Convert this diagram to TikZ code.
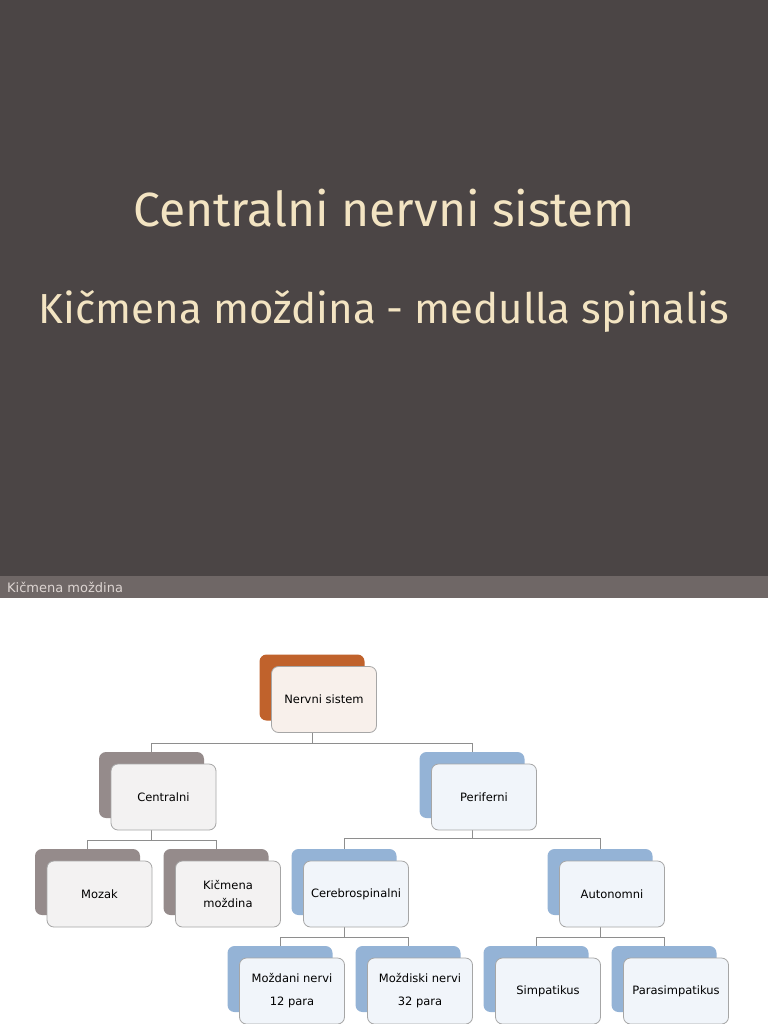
\documentclass[tikz,border=0pt]{standalone}
\usepackage{fontspec}
\setmainfont{DejaVu Sans}
\newfontfamily\titlefont{Fira Sans}
\definecolor{slidebg}{HTML}{4B4545}
\definecolor{bandbg}{HTML}{6F6766}
\definecolor{cream}{HTML}{F3E4C2}
\definecolor{bandtxt}{HTML}{DDD5D2}
\definecolor{orangeb}{HTML}{C0622C}
\definecolor{grayb}{HTML}{958B8B}
\definecolor{blueb}{HTML}{94B3D6}
\definecolor{orangef}{HTML}{F8F0EB}
\definecolor{grayf}{HTML}{F3F2F2}
\definecolor{bluef}{HTML}{F1F5FA}
\definecolor{linec}{HTML}{8E8E8E}
\definecolor{edgec}{HTML}{A6A6A6}
\tikzset{
  backbox/.style={rounded corners=7pt, minimum width=105pt, minimum height=66pt, inner sep=0pt},
  frontbox/.style={rounded corners=7pt, draw=edgec, line width=0.8pt, minimum width=105pt, minimum height=66pt, inner sep=0pt, align=center, font=\fontsize{11.5}{23}\selectfont},
  conn/.style={draw=linec, line width=0.8pt},
}
\newcommand{\twobox}[6]{%
  % #1 name, #2 back x center, #3 back y center, #4 back color, #5 front color, #6 text
  \node[backbox, fill=#4] (#1b) at (#2,#3) {};
  \node[frontbox, fill=#5] (#1) at ([shift={(12,12)}]#1b.center) {#6};
}
\begin{document}
\begin{tikzpicture}[x=1pt,y=-1pt]
\useasboundingbox (0,0) rectangle (768,1024);
\fill[white] (0,0) rectangle (768,1024);
\fill[slidebg] (0,0) rectangle (768,576);
\fill[bandbg] (0,576) rectangle (768,598);
\node[text=bandtxt, anchor=west, inner sep=0pt, font=\fontsize{13}{14}\selectfont] (band) at (7,587) {Kičmena moždina};
\node[text=cream, inner sep=0pt, font=\titlefont\fontsize{48}{54}\selectfont] (t1) at (384,208) {Centralni nervni sistem};
\node[text=cream, inner sep=0pt, font=\titlefont\fontsize{42}{50}\selectfont] (t2) at (384,311) {Kičmena moždina - medulla spinalis};
% connectors (behind boxes)
\coordinate (ns) at (312,687.5);
\coordinate (ce) at (151.5,785);
\coordinate (pe) at (472,785);
\coordinate (mo) at (87.5,882);
\coordinate (km) at (216,882);
\coordinate (cs) at (344,882);
\coordinate (au) at (600,882);
\coordinate (mn) at (280,979);
\coordinate (mk) at (408,979);
\coordinate (si) at (536,979);
\coordinate (pa) at (664,979);
\draw[conn] (ns) -- ++(0,55.5) -| (ce);
\draw[conn] (ns) ++(0,55.5) -| (pe);
\draw[conn] (ce) -- ++(0,55) -| (mo);
\draw[conn] (ce) ++(0,55) -| (km);
\draw[conn] (pe) -- ++(0,53) -| (cs);
\draw[conn] (pe) ++(0,53) -| (au);
\draw[conn] (cs) -- ++(0,55) -| (mn);
\draw[conn] (cs) ++(0,55) -| (mk);
\draw[conn] (au) -- ++(0,55) -| (si);
\draw[conn] (au) ++(0,55) -| (pa);
% boxes
\twobox{nervni}{312}{687.5}{orangeb}{orangef}{Nervni sistem}
\twobox{centralni}{151.5}{785}{grayb}{grayf}{Centralni}
\twobox{periferni}{472}{785}{blueb}{bluef}{Periferni}
\twobox{mozak}{87.5}{882}{grayb}{grayf}{Mozak}
\twobox{kicmena}{216}{882}{grayb}{grayf}{Kičmena\\[-5pt]moždina}
\twobox{cerebro}{344}{882}{blueb}{bluef}{Cerebrospinalni}
\twobox{autonomni}{600}{882}{blueb}{bluef}{Autonomni}
\twobox{mozdani}{280}{979}{blueb}{bluef}{Moždani nervi\\12 para}
\twobox{mozdiski}{408}{979}{blueb}{bluef}{Moždiski nervi\\32 para}
\twobox{simpatikus}{536}{979}{blueb}{bluef}{Simpatikus}
\twobox{parasimp}{664}{979}{blueb}{bluef}{Parasimpatikus}
\end{tikzpicture}
\end{document}
